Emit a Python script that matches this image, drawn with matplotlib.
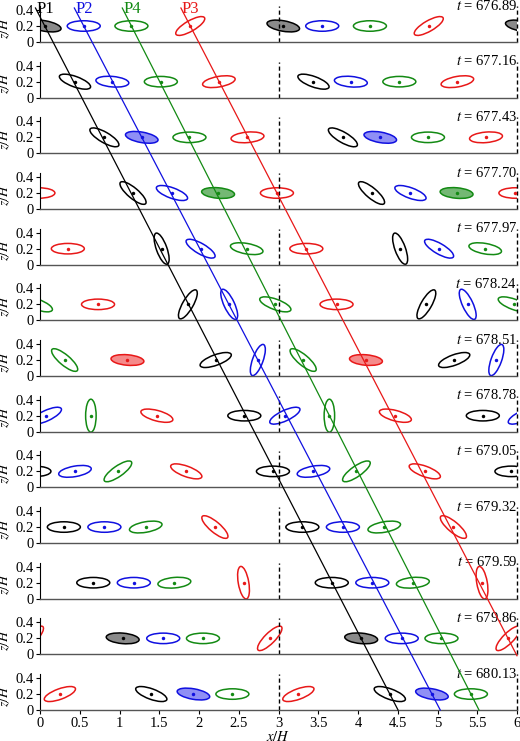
import numpy as np
import matplotlib
matplotlib.use("Agg")
import matplotlib.pyplot as plt
from matplotlib.collections import EllipseCollection
from matplotlib.lines import Line2D

plt.rcParams['font.family'] = ['Liberation Serif', 'DejaVu Serif']
plt.rcParams['mathtext.fontset'] = 'stix'

times = ["676.89", "677.16", "677.43", "677.70", "677.97", "678.24", "678.51",
         "678.78", "679.05", "679.32", "679.59", "679.86", "680.13"]

p1_x = [0.06, 0.44, 0.81, 1.17, 1.53, 1.86, 2.21, 2.57, 2.93, 3.30, 3.67, 4.04, 4.40]
p1_ang = [-10, -20, -30, -40, -70, 60, 20, 0, 0, 0, 0, -5, -20]
p2_x = [0.55, 0.91, 1.28, 1.66, 2.02, 2.38, 2.74, 3.08, 3.44, 3.81, 4.18, 4.55, 4.93]
p2_ang = [0, -5, -10, -20, -30, -65, 70, 25, 10, 0, 0, 0, -10]
p4_x = [1.15, 1.52, 1.88, 2.24, 2.60, 2.96, 3.31, 3.64, 3.98, 4.33, 4.69, 5.05, 5.42]
p4_ang = [0, 0, 0, -5, -10, -20, -40, 90, 35, 10, 5, 0, 0]
p3_x = [1.89, 2.25, 2.61, 2.98, 3.35, 3.73, 4.10, 4.47, 4.84, 5.20, 5.56, 5.89, 6.25]
p3_ang = [30, 10, 5, 0, 0, 0, -5, -15, -20, -40, -80, 45, 20]
p1_filled = [0, 11]
p2_filled = [2, 12]
p4_filled = [3]
p3_filled = [6]
z_center = 0.2
period = 3.0

particles = [
    ("P1", p1_x, p1_ang, p1_filled, "black", "#8a8a8a"),
    ("P2", p2_x, p2_ang, p2_filled, "#1010e0", "#8f8ff5"),
    ("P4", p4_x, p4_ang, p4_filled, "#138a13", "#74b874"),
    ("P3", p3_x, p3_ang, p3_filled, "#e81818", "#f58a8a"),
]

W, H = 520, 741
fig = plt.figure(figsize=(W / 100, H / 100), dpi=100)
n = len(times)
left_px, right_px = 40, 517
base0, spacing = 42, 55.67
ph = 36
axes = []
PT = 0.72  # points per pixel
for i in range(n):
    base = base0 + spacing * i
    ax = fig.add_axes([left_px / W, 1 - base / H, (right_px - left_px) / W, ph / H])
    ax.set_xlim(0, 6)
    ax.set_ylim(0, 0.45)
    for s in ["top", "right"]:
        ax.spines[s].set_visible(False)
    ax.spines["bottom"].set_color("#555555")
    ax.spines["bottom"].set_linewidth(1.0)
    ax.set_yticks([0, 0.2, 0.4])
    ax.set_yticklabels(["0", "0.2", "0.4"], fontsize=10.5)
    ax.tick_params(axis="y", length=3, pad=1.5)
    ax.set_ylabel("$z/H$", fontsize=10, labelpad=0)
    ax.yaxis.set_label_coords(-0.058, 0.4)
    if i == n - 1:
        xt = np.arange(0, 6.01, 0.5)
        ax.set_xticks(xt)
        ax.set_xticklabels([("%g" % v) for v in xt], fontsize=10.5)
        ax.tick_params(axis="x", length=3, pad=2)
        ax.set_xlabel("$x/H$", fontsize=10.5, labelpad=0)
    else:
        ax.set_xticks([])
    ax.plot([3, 3], [0, 0.45], ls=(0, (3, 2)), color="black", lw=1)
    ax.plot([6, 6], [0, 0.45], ls=(0, (3, 2)), color="black", lw=1, clip_on=False)
    ax.text(6, 0.455, "$t$ = " + times[i], ha="right", va="center", fontsize=10.5)
    for name, xs, angs, filled, col, fcol in particles:
        xm = xs[i] % period
        offs = [(xm + k * period, z_center) for k in (-1, 0, 1, 2)]
        ang = angs[i]
        w, h = 33 * PT, 10.5 * PT
        ec = EllipseCollection([w] * 4, [h] * 4, [ang] * 4, units="points",
                               offsets=offs, offset_transform=ax.transData,
                               facecolors=fcol if i in filled else "none",
                               edgecolors=col, linewidths=1.1)
        ax.add_collection(ec)
        ax.plot([o[0] for o in offs], [z_center] * 4, "o", color=col, ms=2.5, mec="none")
    axes.append(ax)

# trajectory lines across panels
inv = fig.transFigure.inverted()
top_disp = H - 8
for name, xs, angs, filled, col, fcol in particles:
    a = axes[0].transData.transform((xs[0], z_center))
    b = axes[-1].transData.transform((xs[-1], z_center))
    bot_disp = axes[-1].transData.transform((0, 0))[1]
    def xat(y):
        return a[0] + (b[0] - a[0]) * (y - a[1]) / (b[1] - a[1])
    x_top, x_bot = xat(top_disp), xat(bot_disp)
    xmax = axes[-1].transData.transform((6, 0))[0]
    y_bot = bot_disp
    if x_bot > xmax:
        y_bot = a[1] + (xmax - a[0]) * (b[1] - a[1]) / (b[0] - a[0])
        x_bot = xmax
    p0 = inv.transform((x_top, top_disp))
    p1 = inv.transform((x_bot, y_bot))
    fig.add_artist(Line2D([p0[0], p1[0]], [p0[1], p1[1]], color=col, lw=0.9))
    lab = inv.transform((x_top + 1, top_disp - 1))
    fig.text(lab[0], lab[1], name, color=col, fontsize=12, ha="left", va="center")

fig.savefig("out.png", dpi=100)
